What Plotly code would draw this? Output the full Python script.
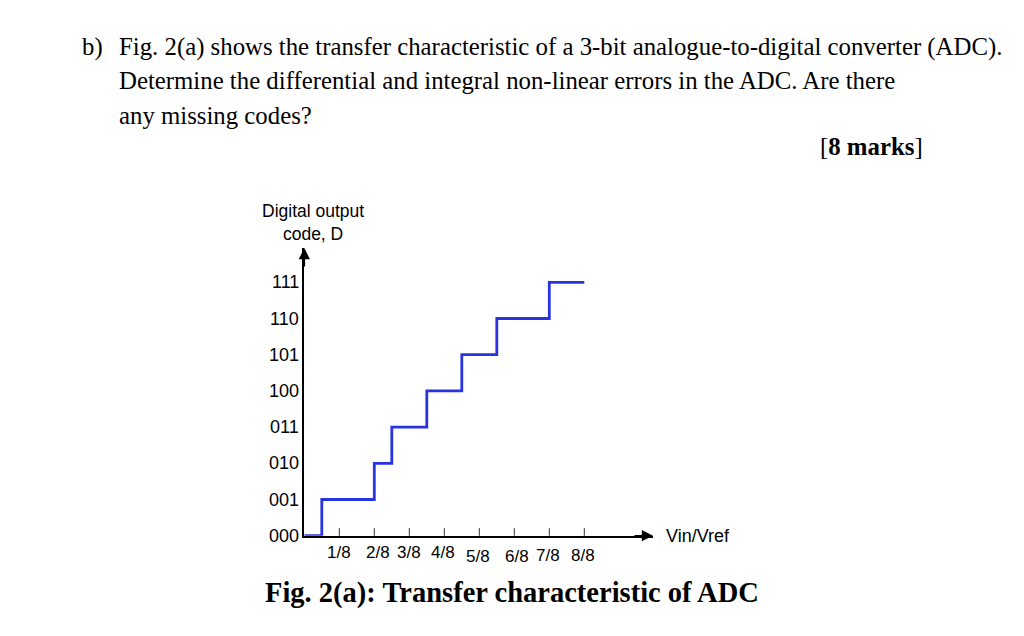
import plotly.graph_objects as go

# transfer characteristic: code transitions, in units of Vref/8
edges_eighths = [0, 0.5, 2, 2.5, 3.5, 4.5, 5.5, 7, 8]
codes = [0, 1, 2, 3, 4, 5, 6, 7, 7]

code_labels = ['000', '001', '010', '011', '100', '101', '110', '111']
x_tick_labels = ['1/8', '2/8', '3/8', '4/8', '5/8', '6/8', '7/8', '8/8']
x_tick_vals = [1, 2, 3, 4, 5, 6, 7, 8]

# the page body adds an 8px margin, so work in page pixels minus 8
OFF = 8
W, H = 1024 - OFF, 636 - 2 * OFF


def px(x):
    return (x - OFF) / W


def py(y):
    return 1 - (y - OFF) / H


x0_px, xend_px, px_per_eighth = 304.3, 653, 35
y0_px, ytop_px, px_per_code = 535.7, 248, 36.2

x_max = (xend_px - x0_px) / px_per_eighth / 8
y_max = (y0_px - ytop_px) / px_per_code

x_vals = [e / 8 for e in edges_eighths]

fig = go.Figure()
fig.add_trace(go.Scatter(
    x=x_vals, y=codes,
    mode='lines',
    line=dict(color='rgb(40,52,222)', width=2.8, shape='hv'),
    hoverinfo='skip',
    showlegend=False,
    cliponaxis=False,
))

sans = 'Liberation Sans, Arial, sans-serif'
serif = 'Liberation Serif, Times New Roman, serif'

# crossing tick marks on the x axis
for v in x_tick_vals:
    fig.add_shape(type='line', xref='x', yref='y',
                  x0=v / 8, x1=v / 8, y0=-0.21, y1=0.21,
                  line=dict(color='#333333', width=1))

# small nudges of the tick labels as in the drawing
lab_dx = [0, 4, 0, -1, -1, 3, -1, -1]
lab_dy = [0, 0, 0, 0, 4, 4, 3, 3]
for v, t, dx, dy in zip(x_tick_vals, x_tick_labels, lab_dx, lab_dy):
    fig.add_annotation(x=v / 8, y=0, xref='x', yref='y', text=t,
                       showarrow=False, xanchor='center', yanchor='middle',
                       xshift=dx, yshift=-17 - dy,
                       font=dict(family=sans, size=17, color='black'))

# code labels left of the y axis
for c, t in enumerate(code_labels):
    fig.add_annotation(x=0, y=c, xref='x', yref='y', text=t,
                       showarrow=False, xanchor='right', yanchor='middle',
                       xshift=-3,
                       font=dict(family=sans, size=18, color='black'))

# arrow heads
fig.add_annotation(x=x_max, y=0, xref='x', yref='y', ax=-20, ay=0,
                   text='', showarrow=True, arrowhead=2, arrowsize=1.4,
                   arrowwidth=1.6, arrowcolor='black')
fig.add_annotation(x=0, y=y_max, xref='x', yref='y', ax=0, ay=20,
                   text='', showarrow=True, arrowhead=2, arrowsize=1.4,
                   arrowwidth=1.6, arrowcolor='black')

fig.add_annotation(x=px(664), y=py(536), xref='paper', yref='paper',
                   text='Vin/Vref', showarrow=False, xanchor='left',
                   yanchor='middle', font=dict(family=sans, size=18, color='black'))
fig.add_annotation(x=px(313), y=py(222.5), xref='paper', yref='paper',
                   text='Digital output<br>code, D', showarrow=False,
                   xanchor='center', yanchor='middle', align='center',
                   font=dict(family=sans, size=17.5, color='black'))

# question text
q_font = dict(family=serif, size=24.8, color='black')
fig.add_annotation(x=px(80), y=py(47), xref='paper', yref='paper',
                   text='b)', showarrow=False, xanchor='left', yanchor='middle',
                   font=q_font)
lines = [
    ('Fig. 2(a) shows the transfer characteristic of a 3-bit analogue-to-digital converter (ADC).', 47),
    ('Determine the differential and integral non-linear errors in the ADC. Are there', 81),
    ('any missing codes?', 115),
]
for txt, ypx in lines:
    fig.add_annotation(x=px(117), y=py(ypx), xref='paper', yref='paper',
                       text=txt, showarrow=False, xanchor='left',
                       yanchor='middle', font=q_font)
fig.add_annotation(x=px(818), y=py(147), xref='paper', yref='paper',
                   text='[<b>8 marks</b>]', showarrow=False, xanchor='left',
                   yanchor='middle', font=q_font)

fig.add_annotation(x=px(512), y=py(593), xref='paper', yref='paper',
                   text='<b>Fig. 2(a): Transfer characteristic of ADC</b>',
                   showarrow=False, xanchor='center', yanchor='middle',
                   font=dict(family=serif, size=28.5, color='black'))

fig.update_layout(
    width=W, height=H,
    margin=dict(l=0, r=0, t=0, b=0),
    paper_bgcolor='white', plot_bgcolor='white',
    xaxis=dict(domain=[px(x0_px), px(xend_px)], range=[0, x_max],
               showline=True, linecolor='black', linewidth=1.6,
               showgrid=False, zeroline=False, showticklabels=False,
               ticks='', fixedrange=True),
    yaxis=dict(domain=[py(y0_px), py(ytop_px)], range=[0, y_max],
               showline=True, linecolor='black', linewidth=1.6,
               showgrid=False, zeroline=False, showticklabels=False,
               ticks='', fixedrange=True),
)

fig.write_html('out.html')
